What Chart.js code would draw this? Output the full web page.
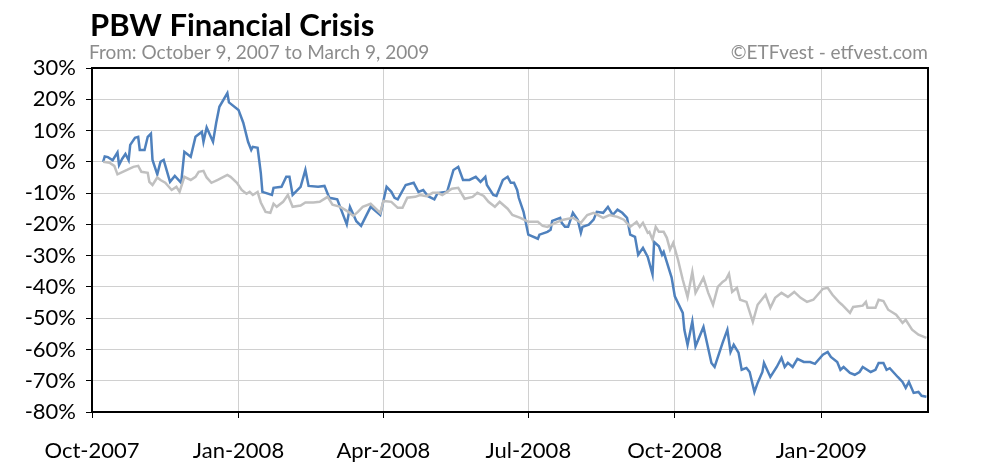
<!DOCTYPE html>
<html><head><meta charset="utf-8">
<script src="https://cdn.jsdelivr.net/npm/chart.js@4"></script>
<style>html,body{margin:0;padding:0;background:#fff}#w{width:990px;height:465px}</style>
</head><body><div id="w"><canvas id="c"></canvas></div>
<script>
const titleText = "PBW Financial Crisis";
const subtitleText = "From: October 9, 2007 to March 9, 2009";
const creditText = "©ETFvest - etfvest.com";
const tickDays = [0, 92, 183, 274, 366, 458];
const tickLabels = ["Oct-2007", "Jan-2008", "Apr-2008", "Jul-2008", "Oct-2008", "Jan-2009"];
const pbwDays = [7,8,10,13,16,17,19,21,23,24,27,29,30,33,35,37,38,41,43,45,49,52,56,58,62,65,69,70,72,76,78,80,85,86,92,95,98,100,101,104,106,107,113,114,119,122,124,126,131,134,136,142,146,149,154,160,162,166,169,175,181,185,188,190,192,197,202,205,208,211,215,217,223,227,230,233,237,241,244,247,248,252,254,258,261,263,265,267,268,271,274,280,281,286,288,289,294,295,297,299,302,305,307,308,312,315,317,321,324,327,330,333,336,338,341,343,346,349,352,353,356,358,359,364,366,371,372,374,375,377,379,384,389,391,396,399,401,403,406,408,411,413,416,418,421,422,426,430,433,435,437,440,443,447,451,454,459,462,464,468,470,472,476,479,482,484,489,492,494,497,499,501,506,509,511,513,516,519,521,524];
const pbwVals = [0,1.7,1.5,0.5,3,-1,1,2.5,0.5,5.4,7.7,8,3.8,3.8,8,9,0.6,-4,0,0.6,-6.4,-4.5,-6.7,3.2,1.6,8,9.6,6.4,11,6.4,12.5,17.6,22,19,16.6,12.5,6.4,3.8,4.8,4.5,-3.5,-9.6,-10.6,-8.3,-8,-4.8,-4.8,-10.6,-8,-2.6,-7.7,-8,-7.7,-11.5,-12,-20,-14.4,-19,-20.5,-14.4,-17,-8,-9.6,-11.5,-12,-7.4,-6.7,-9.6,-9,-11,-12,-10,-9.6,-2.6,-1.6,-5.8,-5.8,-4.8,-6.4,-4.8,-7.4,-10.6,-10.9,-5.8,-4.8,-6.7,-6.7,-9,-11.5,-16,-23.3,-24.6,-23.3,-22.4,-21.7,-18.9,-17.9,-19.5,-20.8,-20.8,-16.3,-18.5,-22.7,-20.8,-20.1,-18.5,-16,-16.3,-14.4,-17,-15.3,-16.3,-17.9,-23.3,-24,-29.7,-27.5,-30.4,-36,-25.6,-27,-29.7,-28.8,-37,-43,-48.3,-53.7,-58.5,-56,-51,-59,-52.8,-64.3,-65.6,-57.9,-53.7,-60.8,-58.5,-61,-66.5,-65.9,-67.2,-73.6,-70.7,-67.2,-64.3,-68.8,-65.6,-62.7,-65.6,-64.3,-65.6,-63,-64,-64,-64.6,-61.7,-60.8,-62.4,-64,-66.5,-65.6,-67.5,-68.1,-67.2,-65.6,-67.2,-66.5,-64.3,-64.3,-66.5,-66,-68.8,-70.4,-72.3,-70.4,-73.9,-73.6,-74.8,-75.1];
const refDays = [7,11,14,16,22,26,29,31,35,36,38,41,43,46,50,53,55,58,62,65,67,70,72,75,79,85,87,91,94,97,99,101,104,106,109,112,114,116,120,123,126,131,134,139,143,148,151,156,161,164,167,170,175,181,183,188,192,195,198,203,206,210,214,217,220,226,230,234,239,242,246,249,253,256,261,264,269,274,280,283,286,291,296,302,307,311,315,321,325,330,334,338,342,344,346,349,350,352,354,356,359,361,363,365,368,371,374,377,379,381,384,387,390,393,396,398,400,402,405,407,411,415,418,423,426,429,433,437,441,445,449,453,459,462,465,469,471,476,478,484,486,487,492,494,497,500,505,509,511,515,519,524];
const refVals = [0,-0.3,-1.3,-4,-2.6,-1.6,-1.3,-3.2,-3.5,-6.4,-7.4,-5,-5.8,-6.7,-9,-8,-9.6,-4.8,-5.8,-4.8,-3.2,-2.9,-5,-6.7,-5.8,-4.2,-4.8,-6.7,-9,-10.2,-9.6,-10.6,-9.6,-13,-16,-16.3,-13.4,-14.4,-12.8,-10.6,-14.4,-14,-13,-13,-12.8,-11.2,-13.7,-14.4,-16,-17.3,-16,-14.4,-13.4,-16.3,-12.5,-12.8,-14.7,-14.7,-11.5,-11.2,-10.6,-11,-9.9,-9.9,-10.6,-8.6,-8.3,-11.8,-11.2,-9.9,-10.9,-12.8,-14.4,-12.8,-15,-17,-17.9,-19.2,-19.2,-20.5,-20.8,-19.5,-18.5,-17.9,-19.5,-17,-16.3,-17.9,-17,-17.6,-18.5,-20.8,-19.2,-20.8,-19.5,-22.7,-22.4,-24.9,-20.8,-22.4,-22.4,-24.3,-28.1,-25.9,-31.3,-37.7,-43.2,-35.2,-41.9,-40,-37.1,-41.9,-45.7,-40,-38.4,-37.7,-35.8,-41.6,-40.3,-44.1,-44.8,-51.2,-45.7,-42.5,-46.7,-43.5,-41.9,-43.2,-41.6,-43.5,-44.8,-44.1,-40.6,-40.3,-42.5,-44.8,-45.7,-48.3,-46.4,-46,-44.8,-46.7,-46.7,-44.1,-44.5,-47.3,-48.9,-51.5,-50.5,-53.7,-55.3,-56.3];

const toPts = (d, v) => d.map((x, i) => ({x, y: v[i]}));
const FONT = "Lato, 'Open Sans', sans-serif";

const deco = {
  id: 'deco',
  afterDraw(chart) {
    const ctx = chart.ctx, a = chart.chartArea;
    ctx.save();
    ctx.fillStyle = '#000';
    ctx.font = "bold 31px " + FONT;
    ctx.textBaseline = 'alphabetic';
    ctx.textAlign = 'left';
    ctx.fillText(titleText, 90, 36);
    ctx.fillStyle = '#8c8c8c';
    ctx.font = "19px " + FONT;
    ctx.fillText(subtitleText, 89, 59);
    ctx.textAlign = 'right';
    ctx.fillText(creditText, a.right, 59);
    ctx.strokeStyle = '#000';
    ctx.lineWidth = 2;
    ctx.strokeRect(a.left, a.top, a.right - a.left, a.bottom - a.top);
    ctx.restore();
  }
};

new Chart(document.getElementById('c'), {
  type: 'line',
  data: {
    datasets: [
      {label: 'Benchmark', data: toPts(refDays, refVals), borderColor: '#c0c0c0', borderWidth: 2.5, pointRadius: 0, tension: 0},
      {label: 'PBW', data: toPts(pbwDays, pbwVals), borderColor: '#4f81bd', borderWidth: 2.5, pointRadius: 0, tension: 0}
    ]
  },
  options: {
    responsive: true, maintainAspectRatio: false, animation: false,
    layout: {padding: {top: 68, right: 62, bottom: 0, left: 0}},
    plugins: {legend: {display: false}, tooltip: {enabled: false}},
    scales: {
      x: {
        type: 'linear', min: 0, max: 525,
        afterBuildTicks: s => { s.ticks = tickDays.map(v => ({value: v})); },
        ticks: {callback: (v) => tickLabels[tickDays.indexOf(v)], font: {size: 22, family: FONT}, color: '#000', maxRotation: 0, autoSkip: false, padding: 20},
        grid: {color: '#d0d0d0', lineWidth: 1, drawTicks: true, tickLength: 6, tickColor: '#000'},
        border: {display: false},
        afterFit: s => { s.height = 53; }
      },
      y: {
        min: -80, max: 30,
        ticks: {stepSize: 10, callback: v => v + '%', font: {size: 22, family: FONT}, color: '#000', padding: 10},
        grid: {color: '#d0d0d0', lineWidth: 1, tickLength: 6, tickColor: '#000'},
        border: {display: false},
        afterFit: s => { s.width = 92; }
      }
    }
  },
  plugins: [deco]
});
</script></body></html>
